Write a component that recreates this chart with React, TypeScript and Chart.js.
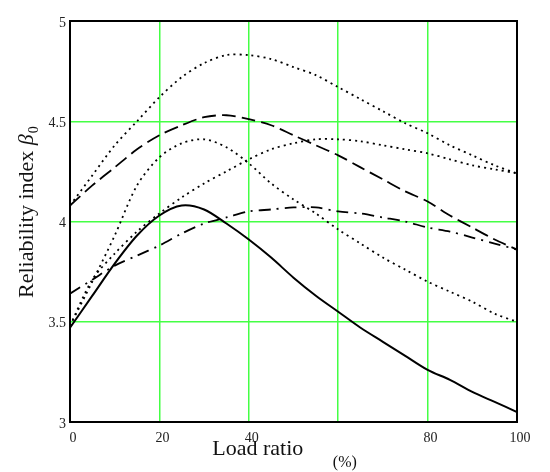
import React, { useEffect, useRef } from "react";
import { Chart, registerables } from "chart.js";

Chart.register(...registerables);

const loadRatio = [0, 5, 10, 15, 20, 25, 30, 35, 40, 45, 50, 55, 60, 65, 70, 75, 80, 85, 90, 95, 100];

const topDotted = [4.08, 4.23, 4.38, 4.5, 4.62, 4.72, 4.79, 4.83, 4.83, 4.81, 4.77, 4.73, 4.67, 4.61, 4.55, 4.49, 4.44, 4.38, 4.33, 4.28, 4.24];
const longDashed = [4.08, 4.18, 4.27, 4.36, 4.43, 4.48, 4.52, 4.53, 4.51, 4.48, 4.43, 4.38, 4.33, 4.27, 4.21, 4.15, 4.1, 4.03, 3.97, 3.91, 3.86];
const peakDotted = [3.48, 3.7, 3.93, 4.18, 4.32, 4.39, 4.41, 4.37, 4.29, 4.19, 4.11, 4.04, 3.96, 3.89, 3.82, 3.76, 3.7, 3.65, 3.6, 3.54, 3.5];
const risingDotted = [3.48, 3.71, 3.84, 3.95, 4.04, 4.12, 4.19, 4.25, 4.31, 4.36, 4.39, 4.41, 4.41, 4.4, 4.38, 4.36, 4.34, 4.31, 4.28, 4.26, 4.24];
const dashDot = [3.64, 3.71, 3.78, 3.83, 3.88, 3.94, 3.99, 4.02, 4.05, 4.06, 4.07, 4.07, 4.05, 4.04, 4.02, 4.0, 3.97, 3.95, 3.92, 3.89, 3.86];
const solidLine = [3.47, 3.63, 3.79, 3.93, 4.03, 4.08, 4.06, 3.99, 3.91, 3.82, 3.72, 3.63, 3.55, 3.47, 3.4, 3.33, 3.26, 3.21, 3.15, 3.1, 3.05];

const xTickValues = [0, 20, 40, 60, 80, 100];
const xTickLabels = ["0", "20", "40", "", "80", "100"];
const yTickLabels = ["3", "3.5", "4", "4.5", "5"];

const SERIF = '"Liberation Serif", "Times New Roman", serif';

const toPoints = (ys: number[]) => loadRatio.map((x, i) => ({ x, y: ys[i] }));

const framePlugin = {
  id: "frame",
  afterDatasetsDraw(chart: any) {
    const { ctx, chartArea } = chart;
    ctx.save();
    ctx.strokeStyle = "#000";
    ctx.lineWidth = 2;
    ctx.strokeRect(chartArea.left, chartArea.top, chartArea.right - chartArea.left, chartArea.bottom - chartArea.top);
    ctx.restore();
  },
};

const titlePlugin = {
  id: "titles",
  afterDraw(chart: any) {
    const { ctx, chartArea, scales } = chart;
    ctx.save();
    ctx.fillStyle = "#111";
    ctx.textBaseline = "alphabetic";
    ctx.font = `22px ${SERIF}`;
    ctx.textAlign = "center";
    ctx.fillText("Load ratio", scales.x.getPixelForValue(42), chartArea.bottom + 33);
    ctx.font = `16px ${SERIF}`;
    ctx.textAlign = "left";
    ctx.fillText("(%)", scales.x.getPixelForValue(58.8), chartArea.bottom + 45);

    ctx.translate(chartArea.left - 37, chartArea.top + 277);
    ctx.rotate(-Math.PI / 2);
    ctx.font = `22px ${SERIF}`;
    const main = "Reliability index ";
    ctx.fillText(main, 0, 0);
    const w1 = ctx.measureText(main).width;
    ctx.font = `italic 22px ${SERIF}`;
    ctx.fillText("\u03B2", w1, 0);
    const w2 = ctx.measureText("\u03B2").width;
    ctx.font = `14px ${SERIF}`;
    ctx.fillText("0", w1 + w2 + 1, 5);
    ctx.restore();
  },
};

export default function App() {
  const canvasRef = useRef<HTMLCanvasElement | null>(null);

  useEffect(() => {
    if (!canvasRef.current) return;
    const common = {
      borderColor: "#000",
      borderWidth: 1.8,
      pointRadius: 0,
      fill: false,
      tension: 0.3,
    };
    const chart = new Chart(canvasRef.current, {
      type: "line",
      data: {
        datasets: [
          { ...common, label: "a", data: toPoints(topDotted), borderDash: [2, 4] },
          { ...common, label: "b", data: toPoints(longDashed), borderDash: [14, 6] },
          { ...common, label: "c", data: toPoints(peakDotted), borderDash: [2, 4] },
          { ...common, label: "d", data: toPoints(risingDotted), borderDash: [2, 4] },
          { ...common, label: "e", data: toPoints(dashDot), borderDash: [12, 6, 2, 6] },
          { ...common, label: "f", data: toPoints(solidLine), borderWidth: 2 },
        ],
      },
      options: {
        animation: false,
        responsive: true,
        maintainAspectRatio: false,
        layout: { padding: { top: 21, right: 33, left: 0, bottom: 0 } },
        plugins: {
          legend: { display: false },
          tooltip: { enabled: false },
        },
        scales: {
          x: {
            type: "linear",
            min: 0,
            max: 100,
            afterFit: (scale: any) => {
              scale.height = 50;
            },
            afterBuildTicks: (scale: any) => {
              scale.ticks = xTickValues.map((v) => ({ value: v }));
            },
            ticks: {
              autoSkip: false,
              maxRotation: 0,
              padding: 8,
              labelOffset: 3,
              color: "#222",
              font: { family: SERIF, size: 14 },
              callback: (v: any) => {
                const i = xTickValues.indexOf(Number(v));
                return i >= 0 ? xTickLabels[i] : "";
              },
            },
            grid: { color: "#44ff44", lineWidth: 1.5, drawTicks: false },
            border: { display: false },
          },
          y: {
            type: "linear",
            min: 3,
            max: 5,
            afterFit: (scale: any) => {
              scale.width = 70;
            },
            ticks: {
              stepSize: 0.5,
              padding: 4,
              labelOffset: 2,
              color: "#222",
              font: { family: SERIF, size: 14 },
              callback: (v: any) => {
                const i = Math.round((Number(v) - 3) / 0.5);
                return yTickLabels[i] ?? "";
              },
            },
            grid: { color: "#44ff44", lineWidth: 1.5, drawTicks: false },
            border: { display: false },
          },
        },
      },
      plugins: [framePlugin, titlePlugin],
    });
    return () => chart.destroy();
  }, []);

  return (
    <div style={{ position: "fixed", left: 0, top: 0, width: 550, height: 472, background: "#fff" }}>
      <canvas ref={canvasRef} />
    </div>
  );
}
